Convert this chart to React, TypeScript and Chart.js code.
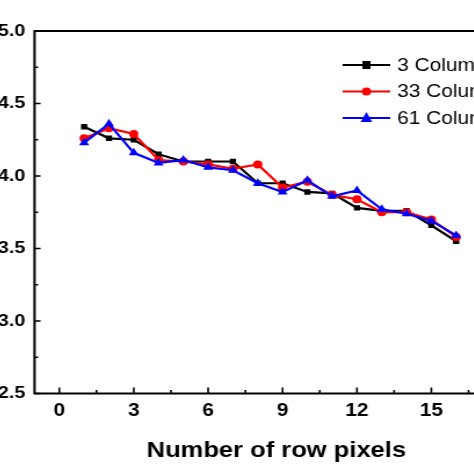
import React, { useEffect, useRef } from "react";
import { Chart, registerables } from "chart.js";

Chart.register(...registerables);

const rowPixels = [1, 2, 3, 4, 5, 6, 7, 8, 9, 10, 11, 12, 13, 14, 15, 16];
const col3 = [4.34, 4.26, 4.25, 4.15, 4.1, 4.1, 4.1, 3.95, 3.95, 3.89, 3.88, 3.78, 3.76, 3.76, 3.66, 3.55];
const col33 = [4.26, 4.33, 4.29, 4.11, 4.1, 4.08, 4.05, 4.08, 3.92, 3.96, 3.87, 3.84, 3.75, 3.75, 3.7, 3.58];
const col61 = [4.23, 4.36, 4.16, 4.09, 4.11, 4.06, 4.04, 3.95, 3.89, 3.97, 3.86, 3.9, 3.77, 3.74, 3.69, 3.59];
const seriesLabels = ["3 Columns", "33 Columns", "61 Columns"];
const seriesColors = ["#000000", "#ff0000", "#0000ff"];
const seriesMarkers = ["rect", "circle", "triangle"];
const xTitle = "Number of row pixels";

const STRETCH = 1.16;

const framePlugin = {
  id: "frame",
  afterDraw(chart: any) {
    const { ctx, chartArea: a, scales } = chart;
    const xs = scales.x;
    const ys = scales.y;
    ctx.save();
    ctx.strokeStyle = "#000";
    ctx.lineWidth = 2;
    ctx.strokeRect(a.left, a.top, a.right - a.left, a.bottom - a.top);
    ctx.lineWidth = 1.6;
    ctx.beginPath();
    const xStep = 3;
    xs.ticks.forEach((t: any) => {
      const p = xs.getPixelForValue(t.value);
      ctx.moveTo(p, a.bottom);
      ctx.lineTo(p, a.bottom - 6);
      const m = t.value + xStep / 2;
      if (m < xs.max) {
        const pm = xs.getPixelForValue(m);
        ctx.moveTo(pm, a.bottom);
        ctx.lineTo(pm, a.bottom - 3.5);
      }
    });
    const yStep = 0.5;
    ys.ticks.forEach((t: any) => {
      const p = ys.getPixelForValue(t.value);
      ctx.moveTo(a.left, p);
      ctx.lineTo(a.left + 6 / STRETCH, p);
      const m = t.value + yStep / 2;
      if (m < ys.max) {
        const pm = ys.getPixelForValue(m);
        ctx.moveTo(a.left, pm);
        ctx.lineTo(a.left + 3.5 / STRETCH, pm);
      }
    });
    ctx.stroke();

    // legend
    const lx0 = 304;
    const lx1 = 345;
    const tx = 351;
    const rows = [65, 91.5, 118];
    chart.data.datasets.forEach((ds: any, i: number) => {
      const y = rows[i];
      ctx.strokeStyle = ds.borderColor;
      ctx.lineWidth = 2;
      ctx.beginPath();
      ctx.moveTo(lx0, y);
      ctx.lineTo(lx1, y);
      ctx.stroke();
      const cx = (lx0 + lx1) / 2;
      ctx.fillStyle = ds.backgroundColor;
      ctx.beginPath();
      if (ds.pointStyle === "rect") {
        ctx.rect(cx - 3.5, y - 4, 7, 8);
      } else if (ds.pointStyle === "circle") {
        ctx.arc(cx, y, 4, 0, Math.PI * 2);
      } else {
        ctx.moveTo(cx, y - 6);
        ctx.lineTo(cx + 5, y + 4);
        ctx.lineTo(cx - 5, y + 4);
        ctx.closePath();
      }
      ctx.fill();
      ctx.fillStyle = "#000";
      ctx.font = "18px 'Liberation Sans', Arial, sans-serif";
      ctx.textBaseline = "middle";
      ctx.textAlign = "left";
      ctx.fillText(ds.label, tx, y + 1);
    });
    ctx.restore();
  },
};

export default function App() {
  const ref = useRef<HTMLCanvasElement>(null);

  useEffect(() => {
    if (!ref.current) return;
    const mk = (vals: number[]) => rowPixels.map((x, i) => ({ x, y: vals[i] }));
    const all = [col3, col33, col61];
    const orders = [3, 2, 1];
    const radii = [3.8, 4, 5];
    const chart = new Chart(ref.current, {
      type: "line",
      data: {
        datasets: all.map((vals, i) => ({
          label: seriesLabels[i],
          data: mk(vals),
          borderColor: seriesColors[i],
          backgroundColor: seriesColors[i],
          pointBackgroundColor: seriesColors[i],
          pointBorderColor: seriesColors[i],
          pointStyle: seriesMarkers[i] as any,
          pointRadius: radii[i],
          pointBorderWidth: 0,
          borderWidth: 2.2,
          tension: 0,
          order: orders[i],
        })),
      },
      options: {
        responsive: false,
        animation: false,
        devicePixelRatio: 1,
        layout: { padding: { top: 31, left: 0, right: 24.7, bottom: 0 } },
        plugins: { legend: { display: false }, tooltip: { enabled: false } },
        scales: {
          x: {
            type: "linear",
            min: -1,
            max: 18.5,
            grid: { display: false, drawTicks: false },
            border: { display: false },
            ticks: {
              stepSize: 3,
              includeBounds: false,
              padding: 7,
              color: "#000",
              font: { family: "'Liberation Sans', Arial, sans-serif", size: 18, weight: "bold" },
              maxRotation: 0,
            },
            title: {
              display: true,
              text: xTitle,
              color: "#000",
              font: { family: "'Liberation Sans', Arial, sans-serif", size: 22, weight: "bold" },
              padding: { top: 0, bottom: 10 },
            },
            afterFit: (s: any) => {
              s.height = 80.5;
            },
          },
          y: {
            type: "linear",
            min: 2.5,
            max: 5.0,
            grid: { display: false, drawTicks: false },
            border: { display: false },
            ticks: {
              stepSize: 0.5,
              padding: 8,
              color: "#000",
              font: { family: "'Liberation Sans', Arial, sans-serif", size: 17, weight: "bold" },
              callback: (v: any) => Number(v).toFixed(1),
            },
            afterFit: (s: any) => {
              s.width = 38.4;
            },
          },
        },
      },
      plugins: [framePlugin],
    });
    return () => chart.destroy();
  }, []);

  return (
    <div
      style={{
        position: "fixed",
        left: 0,
        top: 0,
        width: 474,
        height: 474,
        overflow: "hidden",
        background: "#fff",
      }}
    >
      <div
        style={{
          position: "absolute",
          left: -10,
          top: 0,
          transform: `scaleX(${STRETCH})`,
          transformOrigin: "0 0",
        }}
      >
        <canvas ref={ref} width={480} height={474} style={{ display: "block" }} />
      </div>
    </div>
  );
}
